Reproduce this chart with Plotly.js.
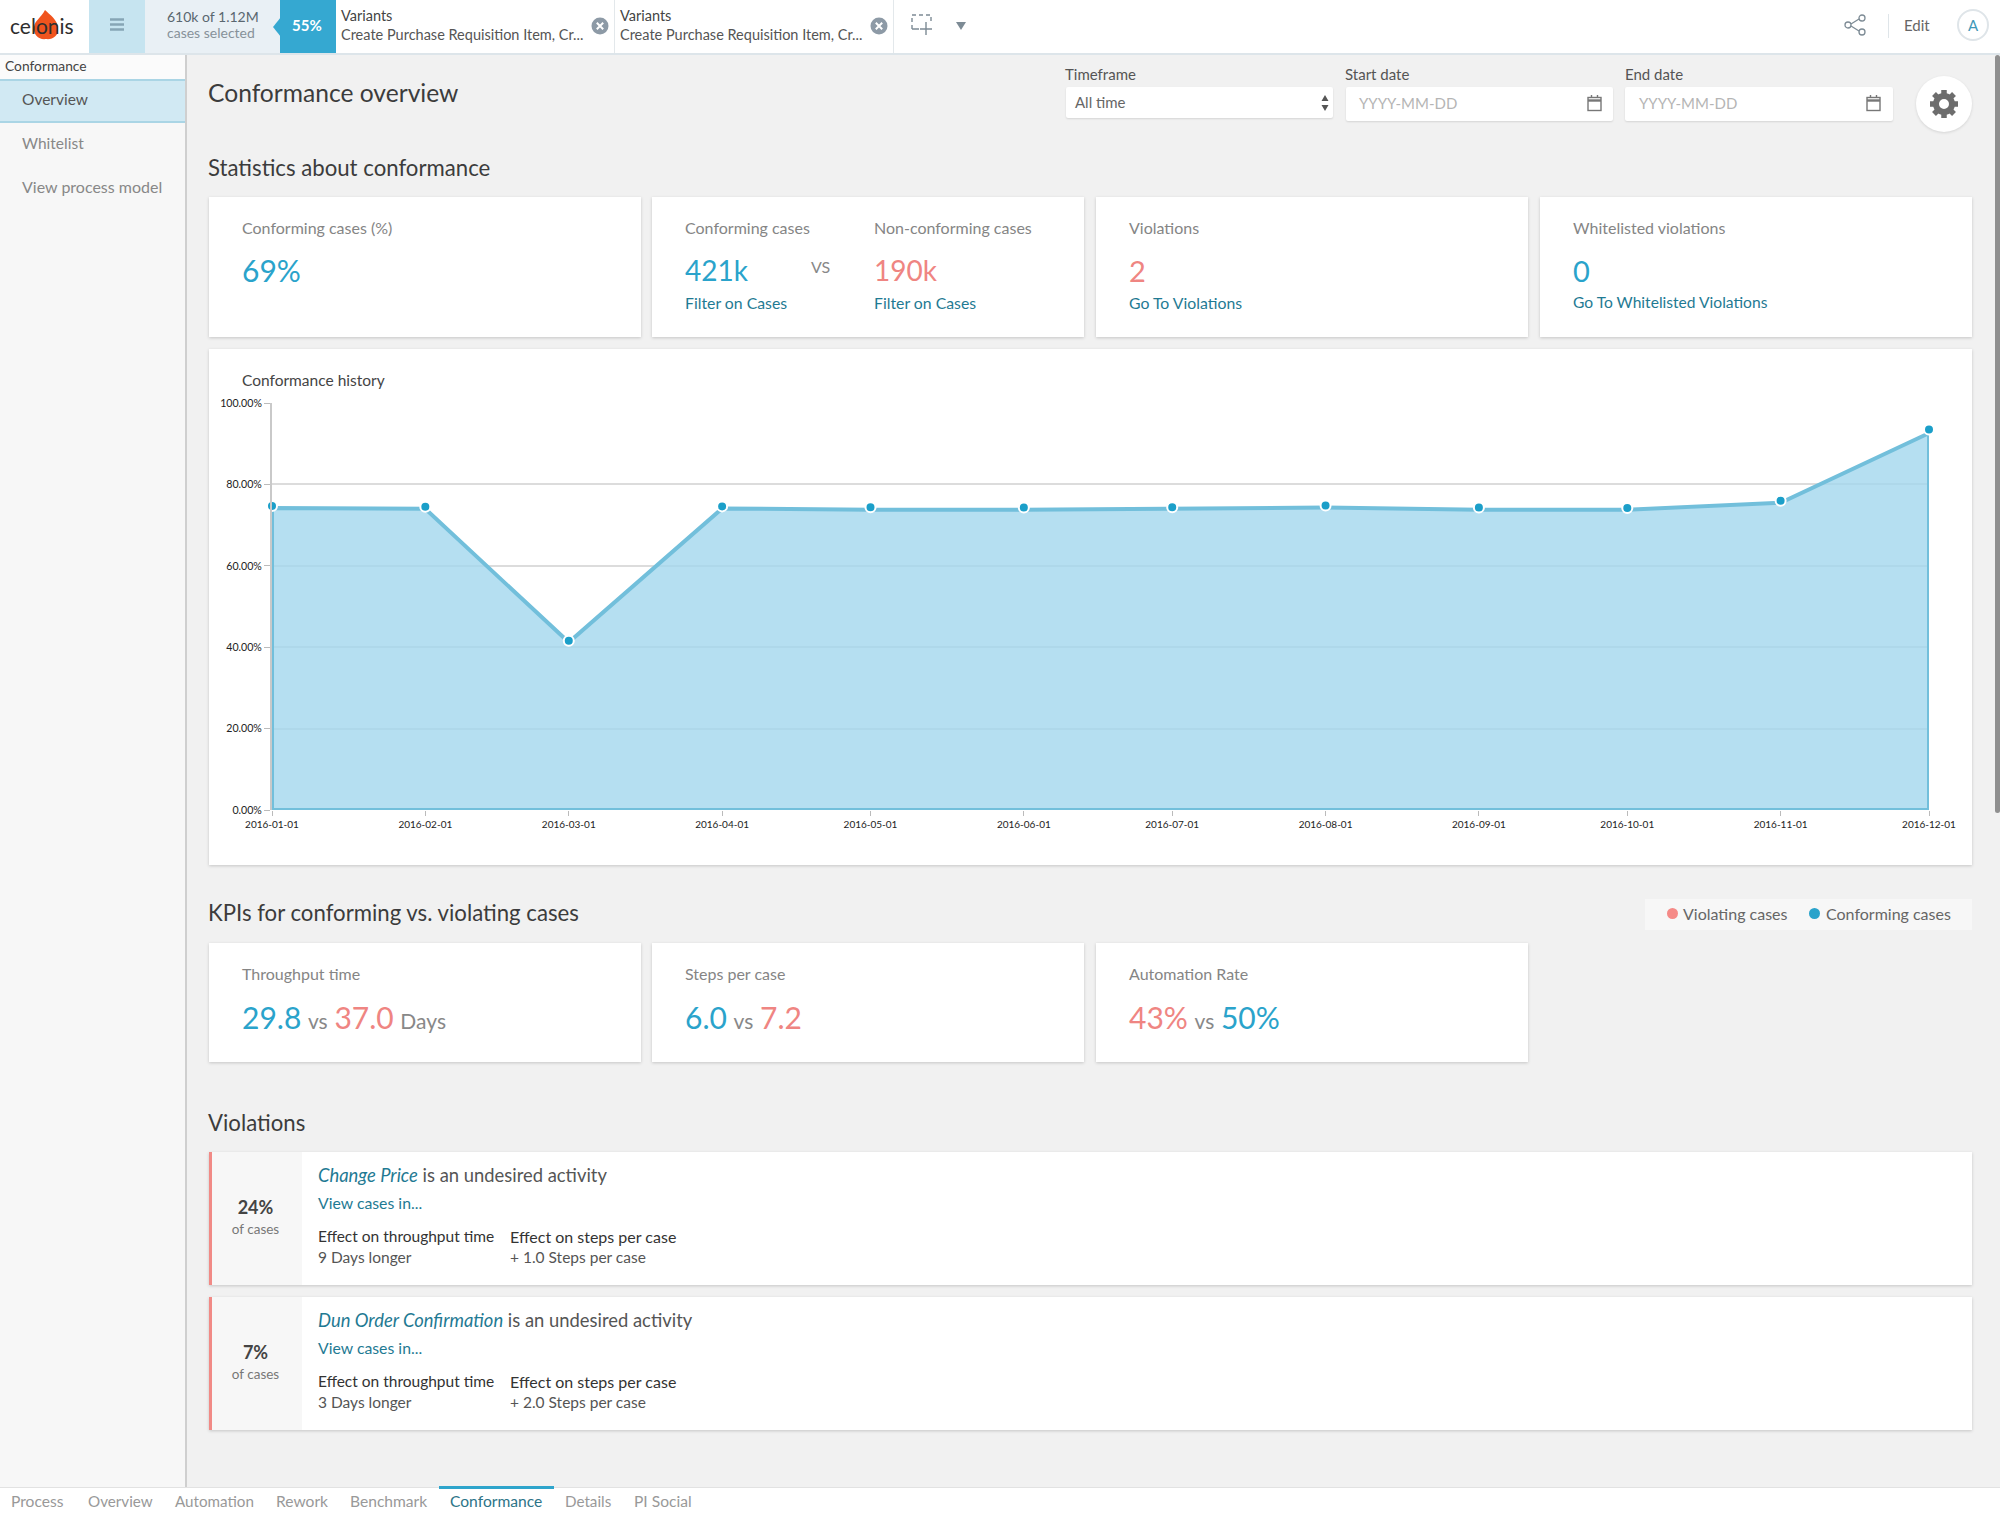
<!DOCTYPE html>
<html><head><meta charset="utf-8">
<script src="https://cdn.plot.ly/plotly-3.0.1.min.js"></script>
<style>
html,body{margin:0;padding:0;width:2000px;height:1518px;overflow:hidden;background:#f1f1f1;font-family:Lato,"Open Sans",sans-serif;color:#4a4a4a}
.b{position:absolute;box-sizing:border-box}
.t{position:absolute;white-space:nowrap;line-height:1;transform:translateY(-50%)}
.card{position:absolute;background:#fff;box-shadow:0 1px 3px rgba(0,0,0,.18)}
.lab{font-size:16px;color:#858585}
.big{font-size:29px}
.link{font-size:15.8px;color:#1f7a93}
.blue{color:#2aa3cb}.red{color:#ef8582}
.h{font-size:22.2px;color:#3c3c3c}
.nav{font-size:15.6px;color:#999;top:1502px}
.ip{position:absolute;background:#fff;box-shadow:0 1px 2px rgba(0,0,0,.12);border-radius:2px}
.eff{font-size:15.5px;color:#333}.eff2{font-size:15.5px;color:#555}
svg{position:absolute}
</style></head><body>

<!-- header -->
<div class="b" style="left:0;top:0;width:2000px;height:55px;background:#fff;border-bottom:2px solid #dde5ea"></div>
<div class="b" style="left:89px;top:0;width:56px;height:53px;background:#c6e4f0"></div>
<div class="b" style="left:145px;top:0;width:135px;height:53px;background:#e9f0f5"></div>
<div class="b" style="left:280px;top:0;width:56px;height:53px;background:#35a8d1"></div>
<svg style="left:270px;top:15px" width="12" height="24"><path d="M11 2 L3 12 L11 22 Z" fill="#35a8d1"/></svg>
<svg style="left:12px;top:7px" width="70" height="36"><path d="M33 3 C38 8 45 12 46 21 C47 29 40 33 34 32 C27 33 21 28 22 20 C23 13 29 11 33 3 Z" fill="#f0541e"/></svg>
<div class="t" style="left:10px;top:25px;font-size:21px;color:#2e2e2e">celonis</div>
<svg style="left:110px;top:18px" width="15" height="14"><path d="M0 1.5H14M0 6.5H14M0 11.5H14" stroke="#86a5b5" stroke-width="2.4"/></svg>
<div class="t" style="left:167px;top:17px;font-size:14px;color:#5a6770">610k of 1.12M</div>
<div class="t" style="left:167px;top:33px;font-size:14px;color:#87929a">cases selected</div>
<div class="t" style="left:292px;top:25px;font-size:15px;font-weight:700;color:#fff">55%</div>
<div class="t" style="left:341px;top:16px;font-size:14.5px;color:#444">Variants</div>
<div class="t" style="left:341px;top:35px;font-size:14.5px;color:#555">Create Purchase Requisition Item, Cr...</div>
<svg style="left:591px;top:17px" width="18" height="18"><circle cx="9" cy="9" r="8.5" fill="#8d9aa6"/><path d="M5.8 5.8L12.2 12.2M12.2 5.8L5.8 12.2" stroke="#fff" stroke-width="2"/></svg>
<div class="b" style="left:614px;top:0;width:1px;height:53px;background:#e3e8eb"></div>
<div class="t" style="left:620px;top:16px;font-size:14.5px;color:#444">Variants</div>
<div class="t" style="left:620px;top:35px;font-size:14.5px;color:#555">Create Purchase Requisition Item, Cr...</div>
<svg style="left:870px;top:17px" width="18" height="18"><circle cx="9" cy="9" r="8.5" fill="#8d9aa6"/><path d="M5.8 5.8L12.2 12.2M12.2 5.8L5.8 12.2" stroke="#fff" stroke-width="2"/></svg>
<div class="b" style="left:893px;top:0;width:1px;height:53px;background:#e3e8eb"></div>
<svg style="left:911px;top:14px" width="24" height="22" fill="none" stroke="#7d8b95" stroke-width="1.4"><path d="M1 15V1H20V9" stroke-dasharray="4 3"/><path d="M1 15H8M15 8V21M9 15H21"/></svg>
<svg style="left:955px;top:21px" width="12" height="10"><path d="M1 1H11L6 9Z" fill="#7d8b95"/></svg>
<svg style="left:1844px;top:14px" width="24" height="22" fill="none" stroke="#7d8b95" stroke-width="1.3"><circle cx="4" cy="11" r="3"/><circle cx="18" cy="4" r="3"/><circle cx="18" cy="18" r="3"/><path d="M7 10L15 5M7 12L15 17"/></svg>
<div class="b" style="left:1888px;top:14px;width:1px;height:24px;background:#dfe5e9"></div>
<div class="t" style="left:1904px;top:25px;font-size:15px;color:#666">Edit</div>
<div class="b" style="left:1957px;top:9px;width:32px;height:32px;border-radius:50%;border:2px solid #dfe5e9;background:#fff"></div>
<div class="t" style="left:1968px;top:25px;font-size:15px;color:#3f98b8">A</div>

<!-- sidebar -->
<div class="b" style="left:0;top:55px;width:187px;height:1433px;background:#f7f7f7;border-right:2px solid #cfcfcf"></div>
<div class="b" style="left:0;top:55px;width:185px;height:25px;background:#fbfbfb"></div>
<div class="t" style="left:5px;top:66px;font-size:13.8px;color:#444">Conformance</div>
<div class="b" style="left:0;top:79px;width:185px;height:44px;background:#d1e9f3;border-top:2px solid #aad5e5;border-bottom:2px solid #aad5e5"></div>
<div class="t" style="left:22px;top:100px;font-size:15.5px;color:#555">Overview</div>
<div class="t" style="left:22px;top:144px;font-size:15.5px;color:#888">Whitelist</div>
<div class="t" style="left:22px;top:187px;font-size:16px;color:#888">View process model</div>

<!-- top -->
<div class="t h" style="left:208px;top:93px;font-size:24.6px">Conformance overview</div>
<div class="t" style="left:1065px;top:74px;font-size:15px;color:#555">Timeframe</div>
<div class="t" style="left:1345px;top:74px;font-size:15px;color:#555">Start date</div>
<div class="t" style="left:1625px;top:74px;font-size:15px;color:#555">End date</div>
<div class="ip" style="left:1066px;top:87px;width:267px;height:31px"></div>
<div class="t" style="left:1075px;top:102px;font-size:15px;color:#666">All time</div>
<svg style="left:1320px;top:94px" width="10" height="18"><path d="M5 1L8.5 7H1.5ZM5 17L8.5 11H1.5Z" fill="#555"/></svg>
<div class="ip" style="left:1346px;top:87px;width:267px;height:34px"></div>
<div class="t" style="left:1359px;top:103px;font-size:15px;color:#b5b5b5">YYYY-MM-DD</div>
<svg style="left:1587px;top:94px" width="16" height="18" fill="none" stroke="#777" stroke-width="1.4"><rect x="1" y="3.5" width="13" height="13"/><path d="M1 6.5H14" stroke-width="2.4"/><path d="M4.5 1V4M10.5 1V4"/></svg>
<div class="ip" style="left:1625px;top:87px;width:268px;height:34px"></div>
<div class="t" style="left:1639px;top:103px;font-size:15px;color:#b5b5b5">YYYY-MM-DD</div>
<svg style="left:1866px;top:94px" width="16" height="18" fill="none" stroke="#777" stroke-width="1.4"><rect x="1" y="3.5" width="13" height="13"/><path d="M1 6.5H14" stroke-width="2.4"/><path d="M4.5 1V4M10.5 1V4"/></svg>
<div class="b" style="left:1916px;top:76px;width:56px;height:56px;border-radius:50%;background:#fff;box-shadow:0 1px 3px rgba(0,0,0,.12)"></div>
<svg style="left:1929px;top:89px" width="30" height="30" viewBox="0 0 30 30"><circle cx="15" cy="15" r="8" fill="none" stroke="#6d6d6d" stroke-width="6"/><path d="M15 1V29M1 15H29M5 5L25 25M25 5L5 25" stroke="#6d6d6d" stroke-width="5.5" stroke-dasharray="5.5 17.5 5.5 0"/></svg>

<div class="t h" style="left:208px;top:168px">Statistics about conformance</div>
<div class="card" style="left:209px;top:197px;width:432px;height:140px"></div>
<div class="card" style="left:652px;top:197px;width:432px;height:140px"></div>
<div class="card" style="left:1096px;top:197px;width:432px;height:140px"></div>
<div class="card" style="left:1540px;top:197px;width:432px;height:140px"></div>
<div class="t lab" style="left:242px;top:228px">Conforming cases (%)</div>
<div class="t big blue" style="left:242px;top:270px;font-size:30px">69%</div>
<div class="t lab" style="left:685px;top:228px">Conforming cases</div>
<div class="t big blue" style="left:685px;top:270px;font-size:28px">421k</div>
<div class="t link" style="left:685px;top:303px">Filter on Cases</div>
<div class="t" style="left:811px;top:267px;font-size:16px;color:#888">VS</div>
<div class="t lab" style="left:874px;top:228px">Non-conforming cases</div>
<div class="t big red" style="left:874px;top:270px;font-size:28px">190k</div>
<div class="t link" style="left:874px;top:303px">Filter on Cases</div>
<div class="t lab" style="left:1129px;top:228px">Violations</div>
<div class="t big red" style="left:1129px;top:270px">2</div>
<div class="t link" style="left:1129px;top:303px">Go To Violations</div>
<div class="t lab" style="left:1573px;top:228px">Whitelisted violations</div>
<div class="t big blue" style="left:1573px;top:270px">0</div>
<div class="t link" style="left:1573px;top:303px;font-size:15.6px">Go To Whitelisted Violations</div>

<!-- chart card -->
<div class="card" style="left:209px;top:349px;width:1763px;height:516px"></div>
<div id="chart" style="position:absolute;left:209px;top:349px;width:1763px;height:516px"></div>

<!-- KPI -->
<div class="t h" style="left:208px;top:913px">KPIs for conforming vs. violating cases</div>
<div class="b" style="left:1645px;top:899px;width:327px;height:31px;background:#f7f7f7"></div>
<div class="b" style="left:1667px;top:908px;width:11px;height:11px;border-radius:50%;background:#f58a87"></div>
<div class="t" style="left:1683px;top:914px;font-size:16px;color:#666">Violating cases</div>
<div class="b" style="left:1809px;top:908px;width:11px;height:11px;border-radius:50%;background:#2aa3cb"></div>
<div class="t" style="left:1826px;top:914px;font-size:16px;color:#666">Conforming cases</div>
<div class="card" style="left:209px;top:943px;width:432px;height:119px"></div>
<div class="card" style="left:652px;top:943px;width:432px;height:119px"></div>
<div class="card" style="left:1096px;top:943px;width:432px;height:119px"></div>
<div class="t lab" style="left:242px;top:974px">Throughput time</div>
<div class="t" style="left:242px;top:1017px;font-size:30px;color:#888;word-spacing:-1px"><span class="blue">29.8</span> <span style="font-size:21px">vs</span> <span class="red">37.0</span> <span style="font-size:21px">Days</span></div>
<div class="t lab" style="left:685px;top:974px">Steps per case</div>
<div class="t" style="left:685px;top:1017px;font-size:30px;color:#888;word-spacing:-1px"><span class="blue">6.0</span> <span style="font-size:21px">vs</span> <span class="red">7.2</span></div>
<div class="t lab" style="left:1129px;top:974px">Automation Rate</div>
<div class="t" style="left:1129px;top:1017px;font-size:30px;color:#888;word-spacing:-1px"><span class="red">43%</span> <span style="font-size:21px">vs</span> <span class="blue">50%</span></div>

<!-- Violations -->
<div class="t h" style="left:208px;top:1123px">Violations</div>
<div class="card" style="left:209px;top:1152px;width:1763px;height:133px"></div>
<div class="b" style="left:209px;top:1152px;width:93px;height:133px;background:#f7f7f7;border-left:3px solid #f18a86"></div>
<div class="t" style="left:209px;width:93px;text-align:center;top:1207px;font-size:18px;font-weight:700;color:#444">24%</div>
<div class="t" style="left:209px;width:93px;text-align:center;top:1230px;font-size:13.5px;color:#777">of cases</div>
<div class="t" style="left:318px;top:1175px;font-size:18.4px;color:#555"><i style="color:#1f7a93">Change Price</i> is an undesired activity</div>
<div class="t link" style="left:318px;top:1203px">View cases in...</div>
<div class="t eff" style="left:318px;top:1237px">Effect on throughput time</div>
<div class="t eff" style="left:510px;top:1237px;font-size:16px">Effect on steps per case</div>
<div class="t eff2" style="left:318px;top:1258px">9 Days longer</div>
<div class="t eff2" style="left:510px;top:1258px">+ 1.0 Steps per case</div>
<div class="card" style="left:209px;top:1297px;width:1763px;height:133px"></div>
<div class="b" style="left:209px;top:1297px;width:93px;height:133px;background:#f7f7f7;border-left:3px solid #f18a86"></div>
<div class="t" style="left:209px;width:93px;text-align:center;top:1352px;font-size:18px;font-weight:700;color:#444">7%</div>
<div class="t" style="left:209px;width:93px;text-align:center;top:1375px;font-size:13.5px;color:#777">of cases</div>
<div class="t" style="left:318px;top:1320px;font-size:18.4px;color:#555"><i style="color:#1f7a93">Dun Order Confirmation</i> is an undesired activity</div>
<div class="t link" style="left:318px;top:1348px">View cases in...</div>
<div class="t eff" style="left:318px;top:1382px">Effect on throughput time</div>
<div class="t eff" style="left:510px;top:1382px;font-size:16px">Effect on steps per case</div>
<div class="t eff2" style="left:318px;top:1403px">3 Days longer</div>
<div class="t eff2" style="left:510px;top:1403px">+ 2.0 Steps per case</div>

<!-- bottom nav -->
<div class="b" style="left:0;top:1487px;width:2000px;height:31px;background:#fff;border-top:1px solid #e2e2e2"></div>
<div class="b" style="left:439px;top:1486px;width:115px;height:3px;background:#2fa5cc"></div>
<div class="t nav" style="left:11px">Process</div>
<div class="t nav" style="left:88px;font-size:15.2px">Overview</div>
<div class="t nav" style="left:175px;font-size:15.2px">Automation</div>
<div class="t nav" style="left:276px">Rework</div>
<div class="t nav" style="left:350px">Benchmark</div>
<div class="t nav" style="left:450px;color:#2d7488">Conformance</div>
<div class="t nav" style="left:565px;font-size:15.2px">Details</div>
<div class="t nav" style="left:634px">PI Social</div>

<!-- scrollbar -->
<div class="b" style="left:1995px;top:55px;width:5px;height:758px;background:#8f8f8f;border-radius:3px"></div>

<script>
const months = ["2016-01-01","2016-02-01","2016-03-01","2016-04-01","2016-05-01","2016-06-01","2016-07-01","2016-08-01","2016-09-01","2016-10-01","2016-11-01","2016-12-01"];
const areaValues = [74.2,74.0,41.2,74.1,73.8,73.8,74.0,74.3,73.8,73.8,75.5,92.6];
const pointValues = [74.7,74.5,41.6,74.6,74.4,74.3,74.4,74.8,74.3,74.2,76.0,93.5];
const yTicks = [0,20,40,60,80,100];
const yTickLabels = ["0.00%","20.00%","40.00%","60.00%","80.00%","100.00%"];

const first = months[0], last = months[months.length-1];
const area = {
  x:[first,...months,last,first], y:[0,...areaValues,0,0],
  mode:'lines', fill:'toself', fillcolor:'rgba(163,215,238,0.8)',
  line:{color:'#72bfdb',width:4,shape:'linear'}, cliponaxis:false, hoverinfo:'skip', showlegend:false
};
const pts = {
  x:months, y:pointValues, mode:'markers', cliponaxis:false, showlegend:false,
  marker:{color:'#1b9fc9',size:10,line:{color:'#fff',width:2}}
};
Plotly.newPlot('chart',[area,pts],{
  width:1763,height:516,autosize:false,
  margin:{l:63,r:43,t:54,b:55,pad:0},
  paper_bgcolor:'rgba(0,0,0,0)',plot_bgcolor:'rgba(0,0,0,0)',
  font:{family:'Lato, sans-serif',color:'#333'},
  title:{text:'Conformance history',font:{size:15.5,color:'#444',family:'Lato, sans-serif'},x:33/1763,xanchor:'left',xref:'container',y:1-32/516,yanchor:'middle',yref:'container'},
  xaxis:{type:'date',range:[first,last],tickvals:months,ticktext:months,tickangle:0,ticks:'outside',ticklen:5,tickwidth:1,tickcolor:'#bbb',
    showgrid:false,zeroline:false,showline:false,tickfont:{size:10,color:'#222'},automargin:false},
  yaxis:{range:[0,100],tickvals:yTicks,ticktext:yTickLabels,ticks:'outside',ticklen:6,tickwidth:1,tickcolor:'#bbb',
    showgrid:true,gridcolor:'#dcdcdc',gridwidth:2,zeroline:false,showline:true,linecolor:'#c9c9c9',linewidth:2,tickfont:{size:10.6,color:'#222'},automargin:false},
  showlegend:false
},{displayModeBar:false,staticPlot:true});
</script>
</body></html>
